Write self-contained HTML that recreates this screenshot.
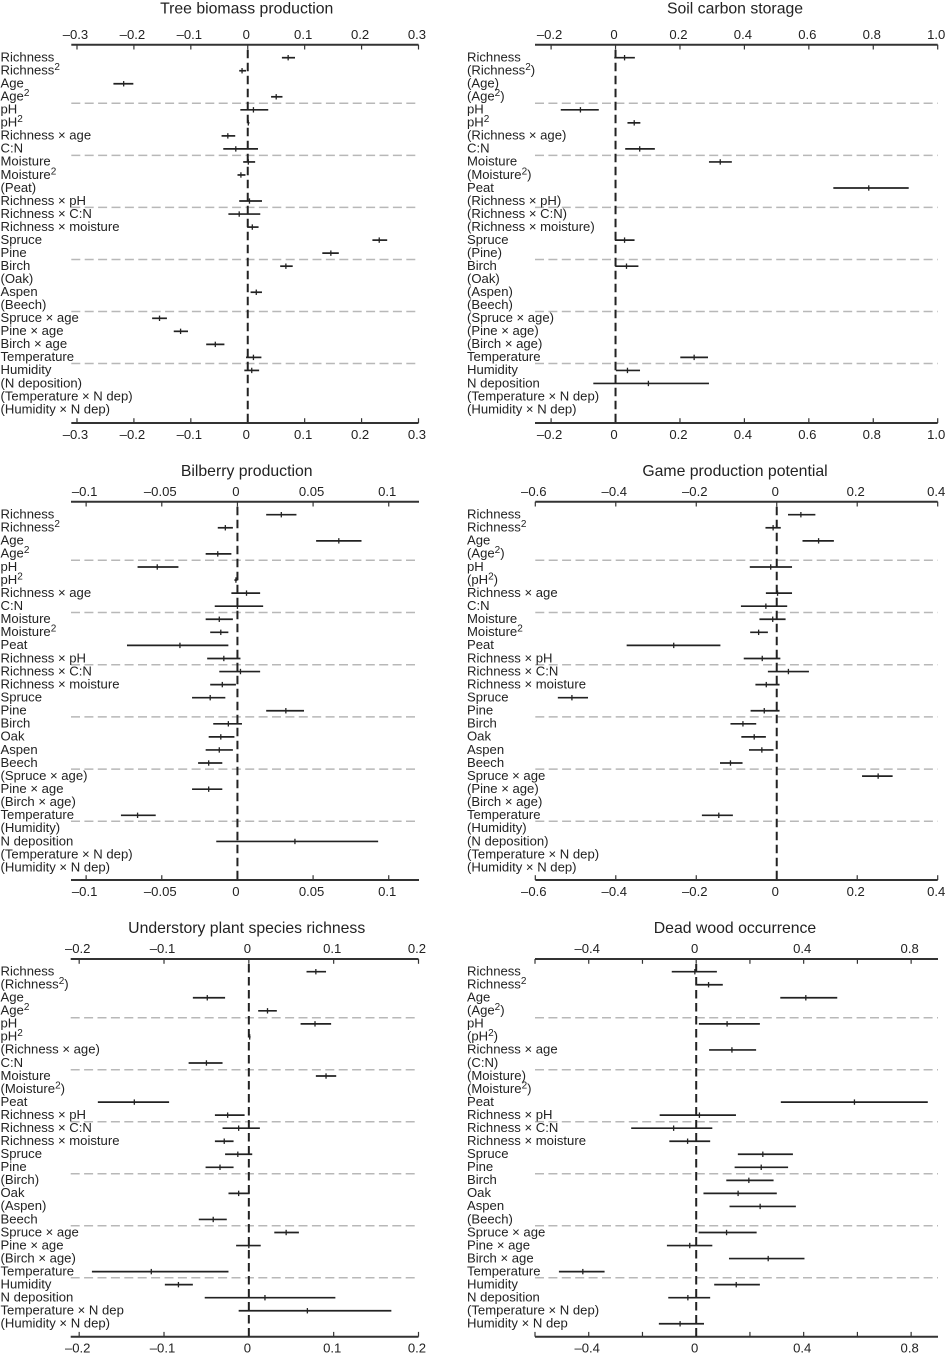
<!DOCTYPE html>
<html lang="en">
<head>
<meta charset="utf-8">
<title>Forest ecosystem service coefficient plots</title>
<style>
html,body{margin:0;padding:0;background:#fff;}
svg{display:block;}
text{font-family:"Liberation Sans",Arial,sans-serif;fill:#222;}
</style>
</head>
<body>
<svg id="figure" xmlns="http://www.w3.org/2000/svg" width="946" height="1355" viewBox="0 0 946 1355"></svg>
<script>
const terms = ["Richness","Richness^2","Age","Age^2","pH","pH^2","Richness × age","C:N","Moisture","Moisture^2","Peat","Richness × pH","Richness × C:N","Richness × moisture","Spruce","Pine","Birch","Oak","Aspen","Beech","Spruce × age","Pine × age","Birch × age","Temperature","Humidity","N deposition","Temperature × N dep","Humidity × N dep"];

const treeLo  = [.060,-.015,-.236,.041,-.013,.000,-.046,-.043,-.008,-.018,null,-.015,-.034,-.001,.219,.131,.057,null,.005,null,-.168,-.130,-.073,-.003,-.006,null,null,null];
const treeMid = [.071,-.010,-.218,.050,.010,.001,-.035,-.021,.001,-.012,null,.003,-.015,.008,.231,.146,.067,null,.015,null,-.155,-.118,-.057,.010,.007,null,null,null];
const treeHi  = [.083,-.003,-.201,.061,.036,.003,-.022,.018,.013,-.004,null,.025,.022,.019,.245,.160,.079,null,.025,null,-.142,-.105,-.041,.024,.020,null,null,null];
const treeTicks = [-0.3,-0.2,-0.1,0,0.1,0.2,0.3];
const treeTickLabels = ["–0.3","–0.2","–0.1","0","0.1","0.2","0.3"];

const soilLo  = [-.004,null,null,null,-.170,.037,null,.030,.290,null,.676,null,null,null,-.002,null,-.001,null,null,null,null,null,null,.201,.001,-.069,null,null];
const soilMid = [.028,null,null,null,-.109,.058,null,.075,.325,null,.786,null,null,null,.028,null,.034,null,null,null,null,null,null,.244,.037,.102,null,null];
const soilHi  = [.060,null,null,null,-.052,.077,null,.122,.361,null,.910,null,null,null,.059,null,.071,null,null,null,null,null,null,.287,.076,.290,null,null];
const soilTicks = [-0.2,0,0.2,0.4,0.6,0.8,1.0];
const soilTickLabels = ["–0.2","0","0.2","0.4","0.6","0.8","1.0"];

const bilberryLo  = [.019,-.013,.052,-.021,-.066,-.002,-.004,-.015,-.021,-.018,-.073,-.020,-.012,-.018,-.030,.019,-.016,-.019,-.021,-.026,null,-.030,null,-.077,null,-.014,null,null];
const bilberryMid = [.029,-.008,.067,-.013,-.053,-.001,.006,.000,-.012,-.011,-.038,-.009,.002,-.010,-.018,.032,-.006,-.011,-.012,-.019,null,-.019,null,-.066,null,.038,null,null];
const bilberryHi  = [.039,-.003,.082,-.004,-.039,.000,.015,.017,-.003,-.006,-.006,.002,.015,-.001,-.008,.044,.003,-.002,-.003,-.010,null,-.010,null,-.054,null,.093,null,null];
const bilberryTicks = [-0.1,-0.05,0,0.05,0.1];
const bilberryTickLabels = ["–0.1","–0.05","0","0.05","0.1"];

const gameLo  = [.028,-.028,.064,null,-.067,null,-.027,-.089,-.043,-.066,-.373,-.082,-.022,-.053,-.544,-.065,-.115,-.088,-.069,-.141,.212,null,null,-.186,null,null,null,null];
const gameMid = [.060,-.009,.104,null,-.015,null,.002,-.027,-.010,-.045,-.256,-.036,.029,-.026,-.509,-.031,-.084,-.056,-.037,-.115,.252,null,null,-.144,null,null,null,null];
const gameHi  = [.096,.010,.142,null,.038,null,.038,.026,.022,-.022,-.140,.009,.080,.007,-.469,.007,-.051,-.027,-.008,-.085,.288,null,null,-.109,null,null,null,null];
const gameTicks = [-0.6,-0.4,-0.2,0,0.2,0.4];
const gameTickLabels = ["–0.6","–0.4","–0.2","0","0.2","0.4"];

const plantLo  = [.068,null,-.066,.011,.061,.000,null,-.071,.079,null,-.178,-.040,-.031,-.040,-.028,-.051,null,-.024,null,-.059,.030,-.015,null,-.185,-.099,-.052,-.012,null];
const plantMid = [.079,null,-.049,.022,.078,.001,null,-.050,.091,null,-.135,-.025,-.012,-.029,-.013,-.034,null,-.012,null,-.042,.044,.000,null,-.115,-.083,.019,.069,null];
const plantHi  = [.091,null,-.028,.033,.097,.002,null,-.031,.103,null,-.094,-.005,.013,-.018,.004,-.018,null,.001,null,-.026,.059,.014,null,-.024,-.066,.102,.168,null];
const plantTicks = [-0.2,-0.1,0,0.1,0.2];
const plantTickLabels = ["–0.2","–0.1","0","0.1","0.2"];

const woodLo  = [-.091,.001,.313,null,.010,null,.048,null,null,null,.315,-.136,-.242,-.100,.155,.143,.112,.027,.124,null,.009,-.109,.122,-.511,.067,-.104,null,-.139];
const woodMid = [-.005,.046,.408,null,.115,null,.133,null,null,null,.589,.012,-.084,-.032,.248,.242,.196,.156,.238,null,.113,-.024,.268,-.422,.149,-.031,null,-.060];
const woodHi  = [.077,.099,.525,null,.237,null,.223,null,null,null,.862,.148,.060,.052,.360,.342,.288,.300,.371,null,.225,.060,.403,-.341,.237,.052,null,.029];
const woodTicks = [-0.6,-0.4,-0.2,0,0.2,0.4,0.6,0.8];
const woodTickLabels = ["","–0.4","","0","","0.4","","0.8"];

const panels = [
  {key:"tree-biomass",title:"Tree biomass production",cx:246.7,titleY:13.3,labelX:0.5,px:[71.3,418.5],domain:[-0.31,0.30],top:44.7,bottom:423,row0:57.7,rowStep:13.03,sep0:103.3,sepStep:52.05,lo:treeLo,mid:treeMid,hi:treeHi,ticks:treeTicks,tickLabels:treeTickLabels},
  {key:"soil-carbon",title:"Soil carbon storage",cx:735,titleY:13.3,labelX:467,px:[535,937.7],domain:[-0.25,1.0],top:44.7,bottom:423,row0:57.7,rowStep:13.03,sep0:103.3,sepStep:52.05,lo:soilLo,mid:soilMid,hi:soilHi,ticks:soilTicks,tickLabels:soilTickLabels},
  {key:"bilberry",title:"Bilberry production",cx:246.7,titleY:476,labelX:0.5,px:[71,419],domain:[-0.11,0.12],top:501.7,bottom:880,row0:514.7,rowStep:13.07,sep0:560.3,sepStep:52.2,lo:bilberryLo,mid:bilberryMid,hi:bilberryHi,ticks:bilberryTicks,tickLabels:bilberryTickLabels},
  {key:"game",title:"Game production potential",cx:735,titleY:476,labelX:467,px:[535.3,937.7],domain:[-0.6,0.4],top:501.7,bottom:880,row0:514.7,rowStep:13.07,sep0:560.3,sepStep:52.2,lo:gameLo,mid:gameMid,hi:gameHi,ticks:gameTicks,tickLabels:gameTickLabels},
  {key:"plant-richness",title:"Understory plant species richness",cx:246.7,titleY:933,labelX:0.5,px:[70.7,418.5],domain:[-0.21,0.20],top:959,bottom:1336.7,row0:971.7,rowStep:13.04,sep0:1017.7,sepStep:52,lo:plantLo,mid:plantMid,hi:plantHi,ticks:plantTicks,tickLabels:plantTickLabels},
  {key:"dead-wood",title:"Dead wood occurrence",cx:735,titleY:933,labelX:467,px:[535,938],domain:[-0.6,0.9],top:959,bottom:1336.7,row0:971.7,rowStep:13.04,sep0:1017.7,sepStep:52,lo:woodLo,mid:woodMid,hi:woodHi,ticks:woodTicks,tickLabels:woodTickLabels}
];

const NS = "http://www.w3.org/2000/svg";
const figure = document.getElementById("figure");

function make(parent, tag, attrs) {
  const el = document.createElementNS(NS, tag);
  for (const k in attrs) el.setAttribute(k, attrs[k]);
  parent.appendChild(el);
  return el;
}

function xAxisScale(p) {
  return function (v) {
    return p.px[0] + (v - p.domain[0]) / (p.domain[1] - p.domain[0]) * (p.px[1] - p.px[0]);
  };
}

function rowScale(p) {
  return function (i) { return p.row0 + i * p.rowStep; };
}

function slug(s) {
  return s.replace("^2", "-squared").replace(/[×:]/g, " ").trim().toLowerCase().replace(/\s+/g, "-");
}

function drawAxis(g, p, x, y, labelY, dir, side) {
  const axis = make(g, "line", {x1: p.px[0], x2: p.px[1], y1: y, y2: y, stroke: "#333", "stroke-width": 2});
  
  
  p.ticks.forEach(function (t, i) {
    const tick = make(g, "line", {x1: x(t), x2: x(t), y1: y, y2: y + dir * 4.8, stroke: "#333", "stroke-width": 1.2});
    
    
    if (p.tickLabels[i] !== "") {
      const lab = make(g, "text", {x: x(t) - 1.5, y: labelY, "text-anchor": "middle", "font-size": 13.1});
      
      
      lab.textContent = p.tickLabels[i];
    }
  });
}

panels.forEach(function (p) {
  const x = xAxisScale(p);
  const y = rowScale(p);
  const g = make(figure, "g", {});
  
  

  const title = make(g, "text", {x: p.cx, y: p.titleY, "text-anchor": "middle", "font-size": 15.8});
  
  
  title.textContent = p.title;

  drawAxis(g, p, x, p.top, p.top - 5.8, 1, 'top');
  drawAxis(g, p, x, p.bottom, p.bottom + 16, -1, 'bottom');

  for (let s = 0; s < 6; s++) {
    const sy = p.sep0 + s * p.sepStep;
    const sep = make(g, "line", {x1: p.px[0], x2: p.px[1], y1: sy, y2: sy, stroke: "#b8b8b8", "stroke-width": 1.5, "stroke-dasharray": "9 4.4"});
    
    
  }

  const zero = make(g, "line", {x1: x(0), x2: x(0), y1: p.top + 5, y2: p.bottom, stroke: "#222", "stroke-width": 2, "stroke-dasharray": "8.5 4.5"});
  
  

  terms.forEach(function (term, i) {
    const parts = term.split("^");
    const excluded = p.mid[i] === null;
    const lab = make(g, "text", {x: p.labelX, y: y(i) + 3.8, "font-size": 13.1});
    
    
    const head = make(lab, "tspan", {});
    head.textContent = (excluded ? "(" : "") + parts[0];
    if (parts[1]) {
      const sup = make(lab, "tspan", {dy: -4.5, "font-size": 10});
      sup.textContent = parts[1];
      if (excluded) {
        const close = make(lab, "tspan", {dy: 4.5});
        close.textContent = ")";
      }
    } else if (excluded) {
      head.textContent += ")";
    }

    if (!excluded) {
      const bar = make(g, "line", {x1: x(p.lo[i]), x2: x(p.hi[i]), y1: y(i), y2: y(i), stroke: "#222", "stroke-width": 1.7});
      
      
      const point = make(g, "line", {x1: x(p.mid[i]), x2: x(p.mid[i]), y1: y(i) - 2.7, y2: y(i) + 2.7, stroke: "#222", "stroke-width": 1.3});
      
      
    }
  });
});
</script>
</body>
</html>
